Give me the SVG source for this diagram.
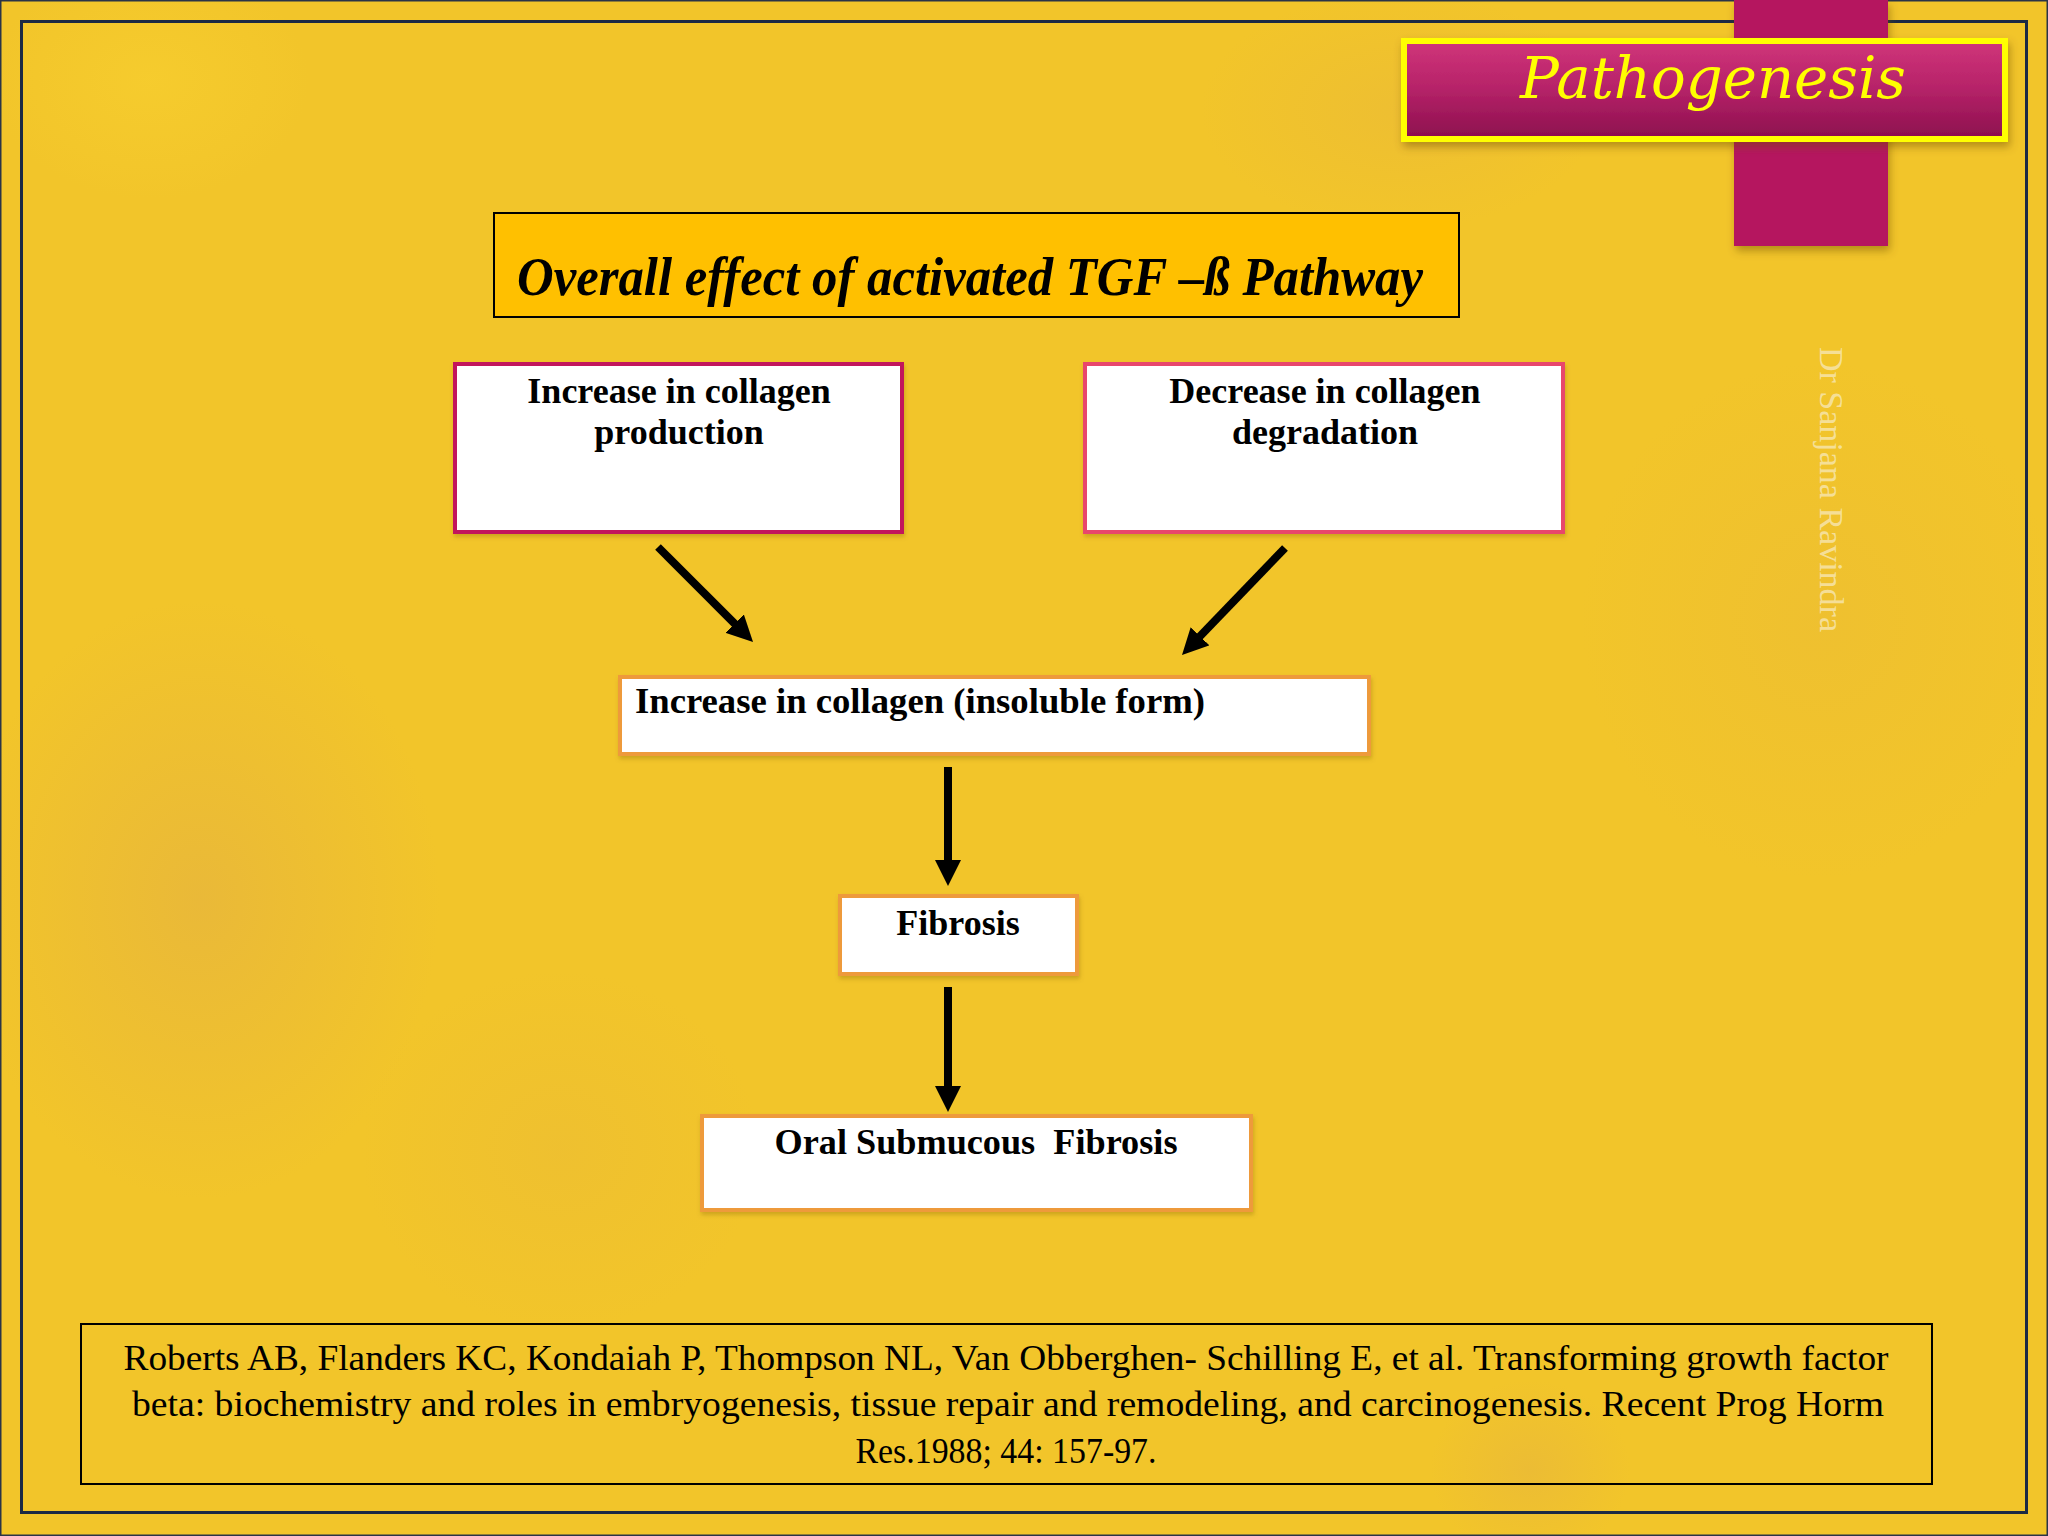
<svg xmlns="http://www.w3.org/2000/svg" width="2048" height="1536" viewBox="0 0 2048 1536">
<style>
.box{fill:#FFFFFF;stroke-width:4}
.lbl{font-family:"Liberation Serif",serif;font-weight:bold;font-size:36px;fill:#000;white-space:pre}
.ref{font-family:"Liberation Serif",serif;font-size:35px;fill:#000}
.conn{stroke:#000;stroke-width:8;fill:none;marker-end:url(#ah)}
</style>
<defs>
<marker id="ah" viewBox="0 0 26 26" refX="6" refY="13" markerWidth="26" markerHeight="26" markerUnits="userSpaceOnUse" orient="auto">
<path d="M0,0 L26,13 L0,26 z" fill="#000"/>
</marker>
<linearGradient id="bannerG" x1="0" y1="0" x2="0" y2="1">
<stop offset="0" stop-color="#D0357A"/>
<stop offset="0.45" stop-color="#B8246A"/>
<stop offset="1" stop-color="#8C0F4E"/>
</linearGradient>
<radialGradient id="blot" cx="0.5" cy="0.5" r="0.5">
<stop offset="0" stop-color="#E2AE45" stop-opacity="0.7"/>
<stop offset="1" stop-color="#E2AE45" stop-opacity="0"/>
</radialGradient>
<radialGradient id="light" cx="0.5" cy="0.5" r="0.5">
<stop offset="0" stop-color="#F8D030" stop-opacity="0.6"/>
<stop offset="1" stop-color="#F8D030" stop-opacity="0"/>
</radialGradient>
<filter id="sh" x="-10%" y="-10%" width="130%" height="140%">
<feDropShadow dx="2" dy="5" stdDeviation="4" flood-color="#6a4a10" flood-opacity="0.45"/>
</filter>
<filter id="sh2" x="-5%" y="-5%" width="110%" height="120%">
<feDropShadow dx="1" dy="3" stdDeviation="2" flood-color="#7a5a10" flood-opacity="0.3"/>
</filter>
</defs>

<!-- background -->
<rect x="0" y="0" width="2048" height="1536" fill="#F2C52A"/>
<ellipse cx="200" cy="900" rx="240" ry="300" fill="url(#blot)" opacity="0.75"/>
<ellipse cx="1530" cy="1470" rx="100" ry="90" fill="url(#blot)" opacity="0.55"/>
<ellipse cx="560" cy="1150" rx="200" ry="180" fill="url(#blot)" opacity="0.3"/>
<ellipse cx="1820" cy="620" rx="240" ry="260" fill="url(#blot)" opacity="0.3"/>
<ellipse cx="150" cy="80" rx="160" ry="120" fill="url(#light)"/>
<ellipse cx="1400" cy="110" rx="200" ry="120" fill="url(#blot)" opacity="0.4"/>
<rect x="0.75" y="0.75" width="2046.5" height="1534.5" fill="none" stroke="#2A3447" stroke-width="1.5"/>
<rect x="21.5" y="21.5" width="2005" height="1491" fill="none" stroke="#1C2A44" stroke-width="3"/>

<!-- decorative bar and banner -->
<g id="header">
<rect x="1734" y="0" width="154" height="246" fill="#B5135F" filter="url(#sh)"/>
<rect x="1404" y="41" width="601" height="98" fill="url(#bannerG)" stroke="#FFFF00" stroke-width="6" filter="url(#sh)"/>
<text x="1713" y="98" font-family="'DejaVu Serif',serif" font-style="italic" font-size="58" fill="#FFFF00" text-anchor="middle" textLength="386" lengthAdjust="spacingAndGlyphs">Pathogenesis</text>
</g>

<!-- watermark -->
<text transform="translate(1820,347) rotate(90)" font-family="'Liberation Serif',serif" font-size="33" fill="#F6E3A6" fill-opacity="0.9" textLength="285" lengthAdjust="spacingAndGlyphs">Dr Sanjana Ravindra</text>

<!-- title -->
<g id="title">
<rect x="494" y="213" width="965" height="104" fill="#FFC000" stroke="#000" stroke-width="2"/>
<text x="517" y="295" font-family="'Liberation Serif',serif" font-weight="bold" font-style="italic" font-size="55" fill="#000" textLength="906" lengthAdjust="spacingAndGlyphs">Overall effect of activated TGF –ß Pathway</text>
</g>

<g id="node-increase-production">
<rect class="box" x="455" y="364" width="447" height="168" stroke="#C2185B" filter="url(#sh2)"/>
<text class="lbl" x="679" y="403" text-anchor="middle">Increase in collagen</text>
<text class="lbl" x="679" y="444" text-anchor="middle">production</text>
</g>

<g id="node-decrease-degradation">
<rect class="box" x="1085" y="364" width="478" height="168" stroke="#E8466C" filter="url(#sh2)"/>
<text class="lbl" x="1325" y="403" text-anchor="middle">Decrease in collagen</text>
<text class="lbl" x="1325" y="444" text-anchor="middle">degradation</text>
</g>

<g id="node-insoluble">
<rect class="box" x="620" y="677" width="749" height="77" stroke="#EE9A3A" filter="url(#sh2)"/>
<text class="lbl" x="635" y="713" textLength="570" lengthAdjust="spacingAndGlyphs">Increase in collagen (insoluble form)</text>
</g>

<g id="node-fibrosis">
<rect class="box" x="840" y="896" width="237" height="78" stroke="#EE9A3A" filter="url(#sh2)"/>
<text class="lbl" x="958" y="935" text-anchor="middle">Fibrosis</text>
</g>

<g id="node-osmf">
<rect class="box" x="702" y="1116" width="549" height="94" stroke="#EE9A3A" filter="url(#sh2)"/>
<text class="lbl" x="976" y="1154" text-anchor="middle" textLength="403" lengthAdjust="spacingAndGlyphs">Oral Submucous  Fibrosis</text>
</g>

<g id="connectors">
<line class="conn" x1="658" y1="547" x2="738.9" y2="627.9"/>
<line class="conn" x1="1285" y1="548" x2="1195.9" y2="640.6"/>
<line class="conn" x1="948" y1="767" x2="948" y2="866"/>
<line class="conn" x1="948" y1="987" x2="948" y2="1092"/>
</g>

<g id="reference">
<rect x="81" y="1324" width="1851" height="160" fill="none" stroke="#000" stroke-width="2"/>
<text class="ref" x="1006" y="1370" text-anchor="middle" textLength="1765" lengthAdjust="spacingAndGlyphs">Roberts AB, Flanders KC, Kondaiah P, Thompson NL, Van Obberghen- Schilling E, et al. Transforming growth factor</text>
<text class="ref" x="1008" y="1416" text-anchor="middle" textLength="1752" lengthAdjust="spacingAndGlyphs">beta: biochemistry and roles in embryogenesis, tissue repair and remodeling, and carcinogenesis. Recent Prog Horm</text>
<text class="ref" x="1006" y="1463" text-anchor="middle" textLength="301" lengthAdjust="spacingAndGlyphs">Res.1988; 44: 157-97.</text>
</g>
</svg>
